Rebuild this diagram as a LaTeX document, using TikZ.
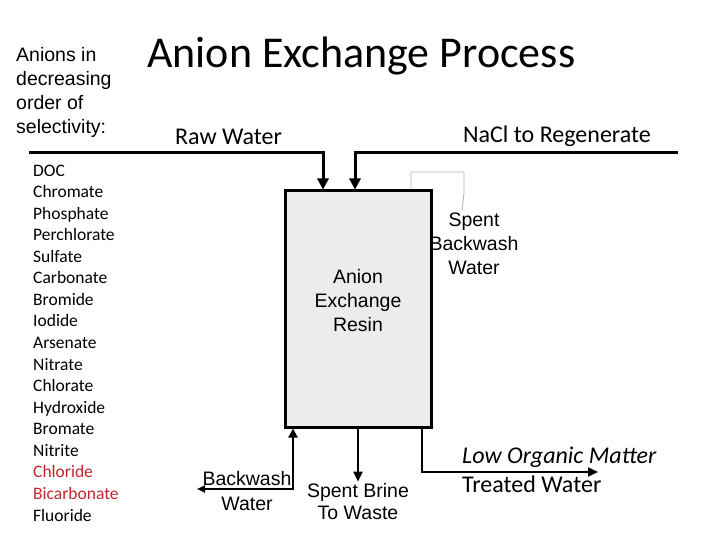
\documentclass[tikz,border=0pt]{standalone}
\usepackage{fontspec}
\setmainfont{Carlito}
\newfontfamily\arialfont{Liberation Sans}
\usepackage{tikz}
\usetikzlibrary{arrows.meta,positioning,calc}
\definecolor{keyred}{HTML}{C0272D}
\definecolor{resinbg}{HTML}{ECECEC}
\definecolor{ventgrey}{HTML}{B5B5B5}
\tikzset{
  arial/.style={font=\arialfont\fontsize{19.5}{24}\selectfont,inner sep=0pt,align=center},
  calib/.style={font=\fontsize{24}{29}\selectfont,inner sep=0pt},
  listtxt/.style={font=\fontsize{17.5}{21.56}\selectfont,inner sep=0pt,align=left},
  resin/.style={draw=black,line width=3pt,fill=resinbg,inner sep=0pt,
    minimum width=146pt,minimum height=236pt},
  feed/.style={line width=3pt,-{Triangle[length=11pt,width=11pt]}},
  outflow/.style={line width=2pt,-{Triangle[length=10pt,width=9pt]}},
  backflow/.style={line width=2pt,{Triangle[length=8pt,width=7pt]}-{Triangle[length=9pt,width=9pt]}},
  vent/.style={draw=ventgrey,line width=0.9pt},
}

\begin{document}
\begin{tikzpicture}[x=1pt,y=-1pt]
  \useasboundingbox (0,0) rectangle (720,540);
  % --- selectivity list (base = last line) ---
  \node[arial,align=left,anchor=base west](sel) at (16,134)
    {Anions in\\decreasing\\order of\\selectivity:};
  \node[listtxt,anchor=base west](anions) at (33,521){%
    DOC\\Chromate\\Phosphate\\Perchlorate\\Sulfate\\Carbonate\\Bromide\\
    Iodide\\Arsenate\\Nitrate\\Chlorate\\Hydroxide\\Bromate\\Nitrite\\
    {\color{keyred}Chloride}\\{\color{keyred}Bicarbonate}\\Fluoride};
  \node[inner sep=0pt,anchor=base west,font=\fontsize{44}{53}\selectfont](title) at (147,68)
    {Anion Exchange Process};
  % --- column ---
  \node[resin](resin) at (358,309){};
  \node[arial,anchor=base](resintxt) at (358,331){Anion\\Exchange\\Resin};
  \node[calib,anchor=base west](raw) at (175,145){Raw Water};
  \node[calib,anchor=base west](nacl) at (463,143){NaCl to Regenerate};
  \node[arial,anchor=base](spentbw) at (474,274){Spent\\Backwash\\Water};
  \node[arial,anchor=base,font=\arialfont\fontsize{19.5}{25}\selectfont](bw) at (247,510){Backwash\\Water};
  \node[arial,anchor=base,font=\arialfont\fontsize{19.5}{22}\selectfont,inner sep=1pt](brine) at (358,519)
    {Spent Brine\\To Waste};
  \node[calib,anchor=base west,font=\itshape\fontsize{24}{29}\selectfont](lowom) at (462,463){Low Organic Matter};
  \node[calib,anchor=base west](treated) at (462,492){Treated Water};
  \coordinate (rawin) at (29,153);
  \coordinate (naclin) at (678,153);
  \coordinate (ventbend) at (464,172);
  \coordinate (bwout) at (197,489);
  \coordinate (treatout) at (598,472);
  \draw[feed] (rawin) -| ([xshift=-35pt]resin.north);
  \draw[feed] (naclin) -| ([xshift=-3pt]resin.north);
  \draw[vent] ([xshift=53pt]resin.north) |- (ventbend) -- ++(0,21) -- ([xshift=-12pt,yshift=2pt]spentbw.north);
  \draw[backflow] (bwout) -| ([xshift=-65pt]resin.south);
  \draw[outflow] (resin.south) -- (brine.north);
  \draw[outflow] ([xshift=64pt]resin.south) |- (treatout);
\end{tikzpicture}
\end{document}
